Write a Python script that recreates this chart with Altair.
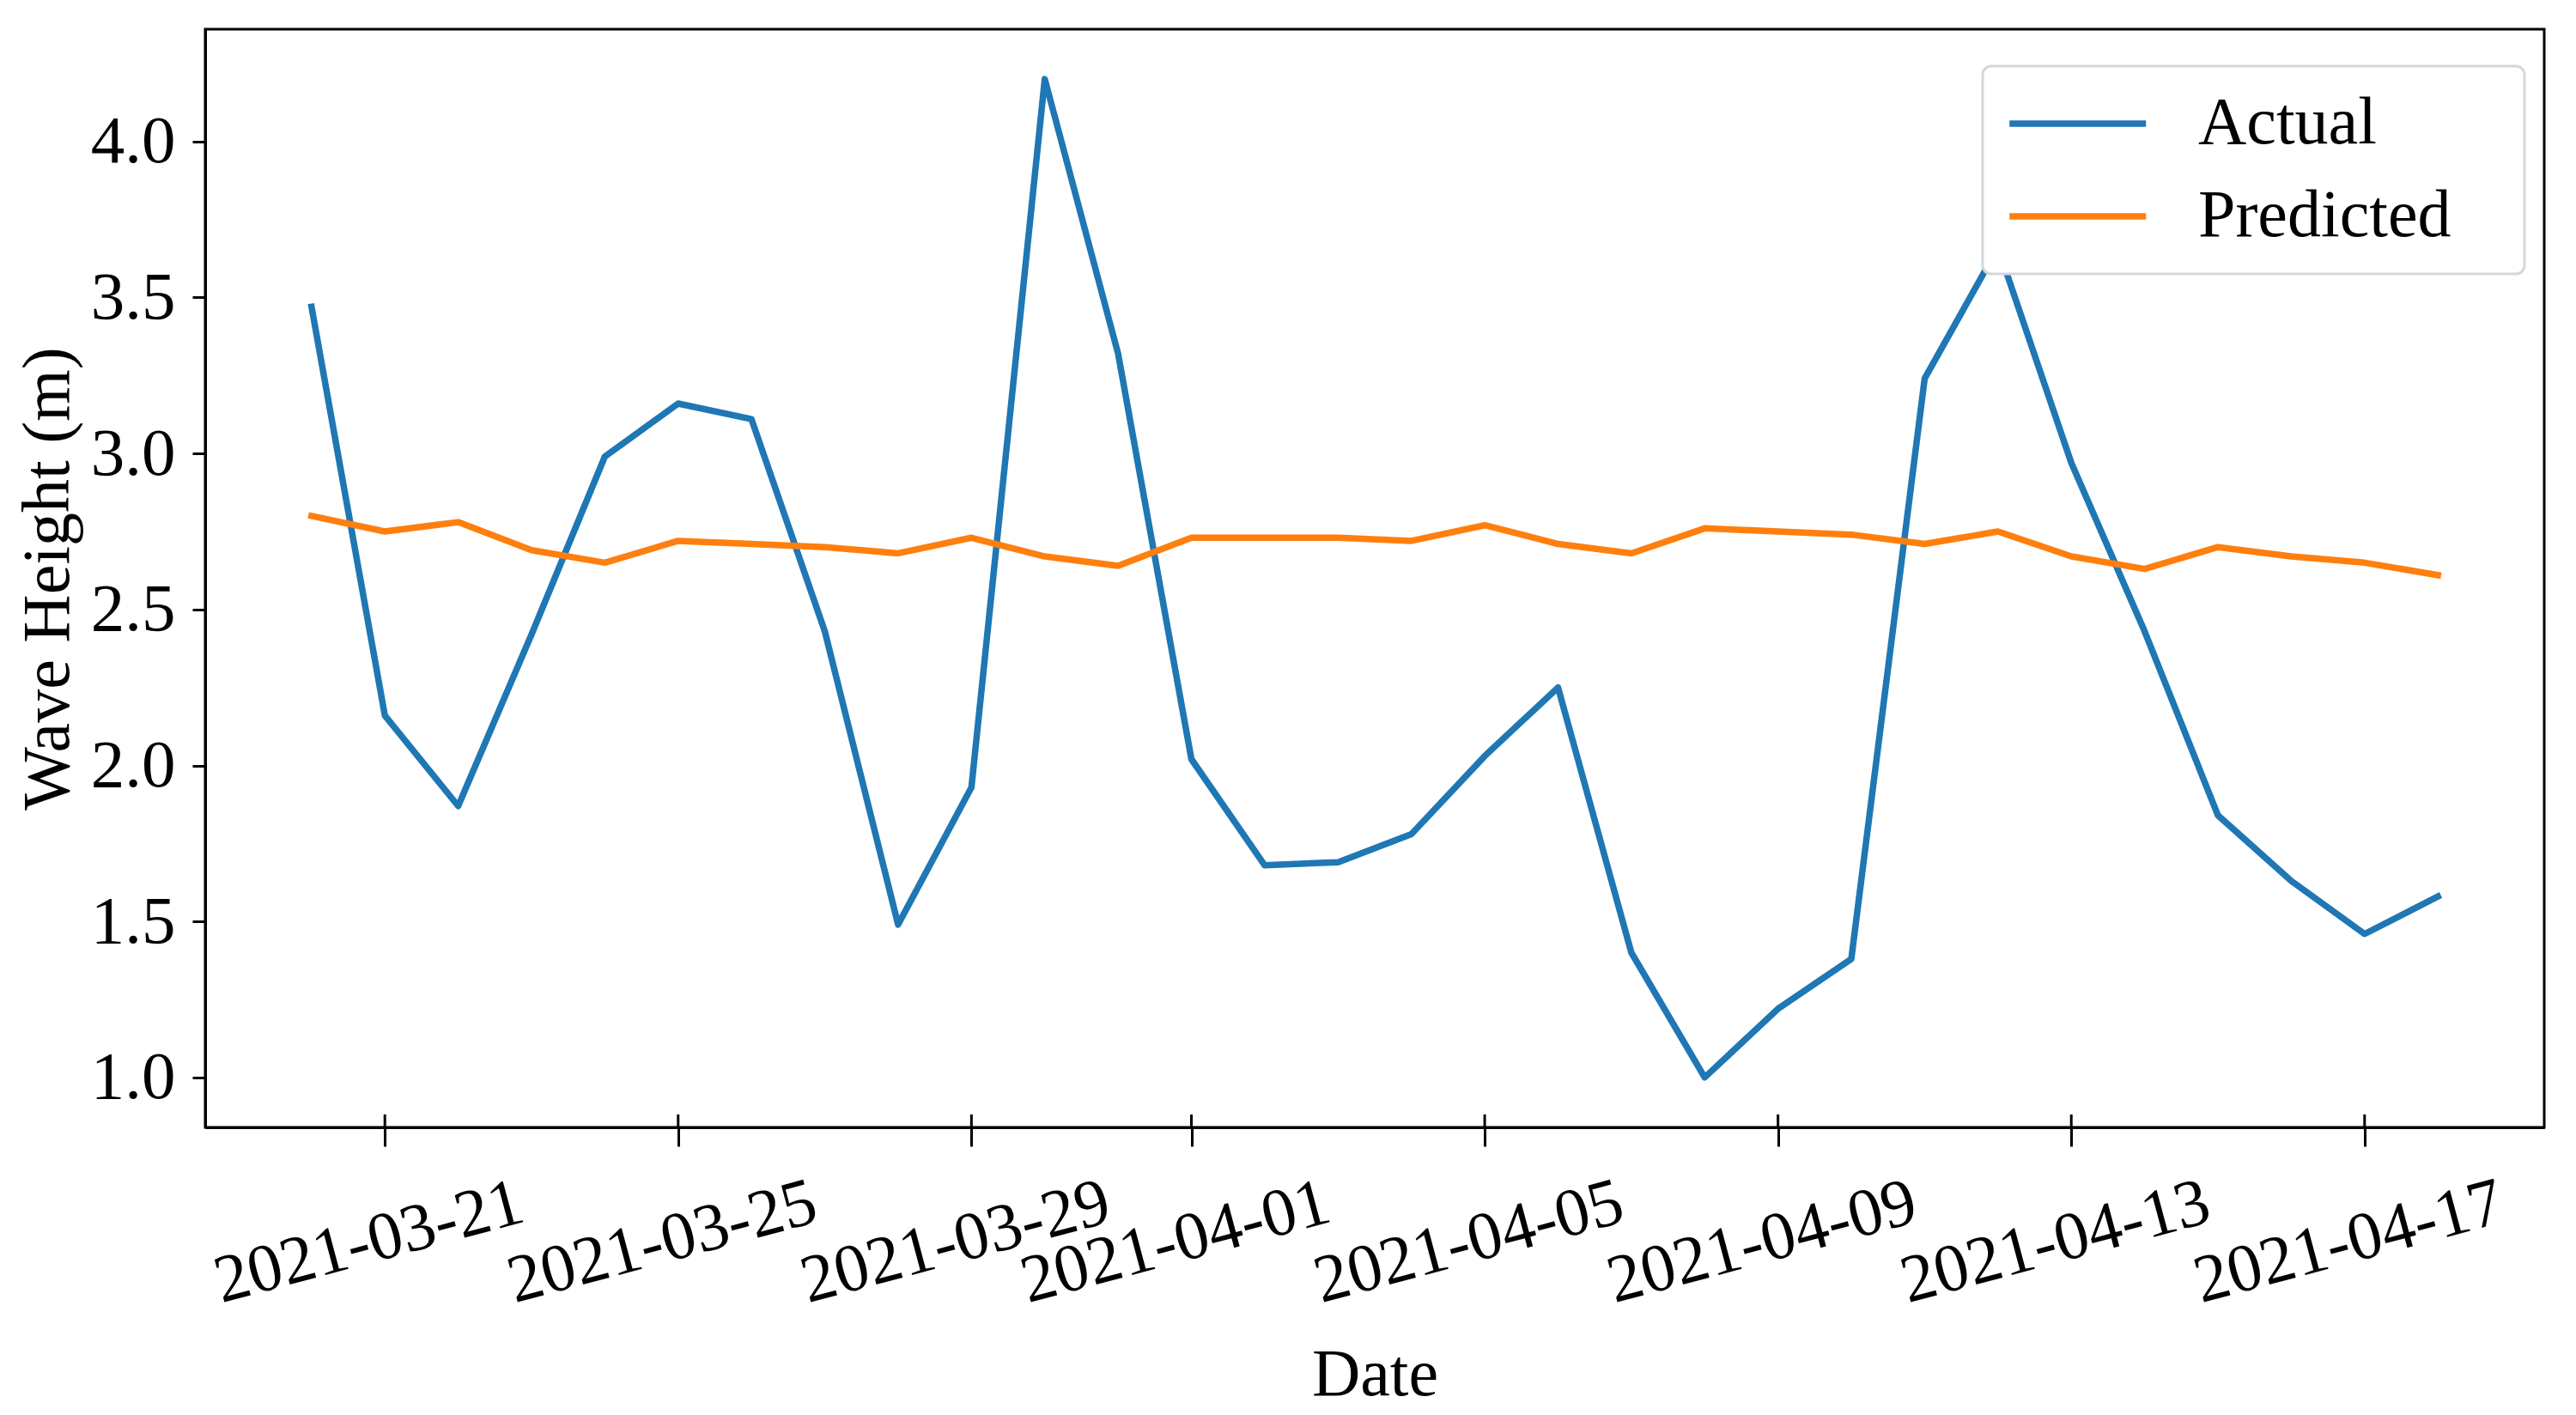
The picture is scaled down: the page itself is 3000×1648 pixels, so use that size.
import altair as alt
import pandas as pd

dates = ["2021-03-20", "2021-03-21", "2021-03-22", "2021-03-23", "2021-03-24",
         "2021-03-25", "2021-03-26", "2021-03-27", "2021-03-28", "2021-03-29",
         "2021-03-30", "2021-03-31", "2021-04-01", "2021-04-02", "2021-04-03",
         "2021-04-04", "2021-04-05", "2021-04-06", "2021-04-07", "2021-04-08",
         "2021-04-09", "2021-04-10", "2021-04-11", "2021-04-12", "2021-04-13",
         "2021-04-14", "2021-04-15", "2021-04-16", "2021-04-17", "2021-04-18"]

actual = [3.47, 2.16, 1.87, 2.42, 2.99, 3.16, 3.11, 2.43, 1.49, 1.93,
          4.20, 3.32, 2.02, 1.68, 1.69, 1.78, 2.03, 2.25, 1.40, 1.00,
          1.22, 1.38, 3.24, 3.66, 2.97, 2.43, 1.84, 1.63, 1.46, 1.58]

predicted = [2.80, 2.75, 2.78, 2.69, 2.65, 2.72, 2.71, 2.70, 2.68, 2.73,
             2.67, 2.64, 2.73, 2.73, 2.73, 2.72, 2.77, 2.71, 2.68, 2.76,
             2.75, 2.74, 2.71, 2.75, 2.67, 2.63, 2.70, 2.67, 2.65, 2.61]

series_names = ["Actual", "Predicted"]
series_colors = ["#1f77b4", "#ff7f0e"]

x_tick_dates = ["2021-03-21", "2021-03-25", "2021-03-29", "2021-04-01",
                "2021-04-05", "2021-04-09", "2021-04-13", "2021-04-17"]
y_ticks = [1.0, 1.5, 2.0, 2.5, 3.0, 3.5, 4.0]

Y_MIN, Y_MAX = 0.84, 4.36

rows = []
for name, vals in zip(series_names, [actual, predicted]):
    for d, v in zip(dates, vals):
        rows.append({"date": d, "series": name, "value": v})
df = pd.DataFrame(rows)
ticks_df = pd.DataFrame({"date": x_tick_dates})

FONT = "Liberation Serif"

x_domain = [alt.DateTime(year=2021, month=3, date=18, hours=13, minutes=12, utc=True),
            alt.DateTime(year=2021, month=4, date=19, hours=10, minutes=48, utc=True)]
x_values = [alt.DateTime(year=int(s[:4]), month=int(s[5:7]), date=int(s[8:]), utc=True)
            for s in x_tick_dates]

x_scale = alt.Scale(type="utc", domain=x_domain, nice=False)
y_scale = alt.Scale(domain=[Y_MIN, Y_MAX], nice=False, zero=False)

lines = alt.Chart(df).mark_line(strokeWidth=7.5, strokeJoin="round", strokeCap="square").encode(
    x=alt.X("date:T", scale=x_scale,
            axis=alt.Axis(values=x_values,
                          labelExpr="utcFormat(datum.value, '%Y-%m-%d')",
                          labelAngle=345, labelAlign="center", labelBaseline="middle",
                          labelPadding=111, labelOffset=-19, labelOverlap=False, labelFlush=False,
                          labelLimit=2000, labelFontSize=79,
                          tickSize=22, tickWidth=3, tickColor="black",
                          domainColor="black", domainWidth=3,
                          grid=False, titlePadding=49, titleFontSize=78),
            title="Date"),
    y=alt.Y("value:Q", scale=y_scale,
            axis=alt.Axis(values=y_ticks, format=".1f", labelFontSize=79,
                          tickSize=15, tickWidth=3, tickColor="black",
                          domainColor="black", domainWidth=3,
                          labelPadding=20, grid=False, titlePadding=10, titleFontSize=78),
            title="Wave Height (m)"),
    color=alt.Color("series:N",
                    scale=alt.Scale(domain=series_names, range=series_colors),
                    legend=alt.Legend(title=None, orient="none", legendX=2070, legendY=43,
                                      symbolType="M-1.35,0H4.65", symbolSize=2809,
                                      symbolStrokeWidth=7.5, labelOffset=145,
                                      labelFont=FONT, labelFontSize=78, labelColor="black",
                                      labelLimit=2000,
                                      labelExpr="datum.label + '\u2800'",
                                      rowPadding=30, padding=28,
                                      fillColor="white", strokeColor="#d3d8dc",
                                      cornerRadius=10)),
)

inner_ticks = alt.Chart(ticks_df).mark_rule(color="black", strokeWidth=3).encode(
    x=alt.X("date:T", scale=x_scale, title="Date"),
    y=alt.datum(Y_MIN),
    y2=alt.datum(Y_MIN + 0.0414),
)

chart = alt.layer(lines, inner_ticks).properties(
    width=2984, height=1632,
    autosize=alt.AutoSizeParams(type="fit", contains="padding"),
    padding={"left": 9, "top": 26, "right": 29, "bottom": 0},
    background="white",
).configure_view(
    stroke="black", strokeWidth=3
).configure_axis(
    labelFont=FONT, labelColor="black",
    titleFont=FONT, titleFontWeight="normal", titleColor="black",
).configure_legend(
    strokeWidth=3
)

chart.save("out.html", embed_options={"renderer": "svg", "actions": False})
